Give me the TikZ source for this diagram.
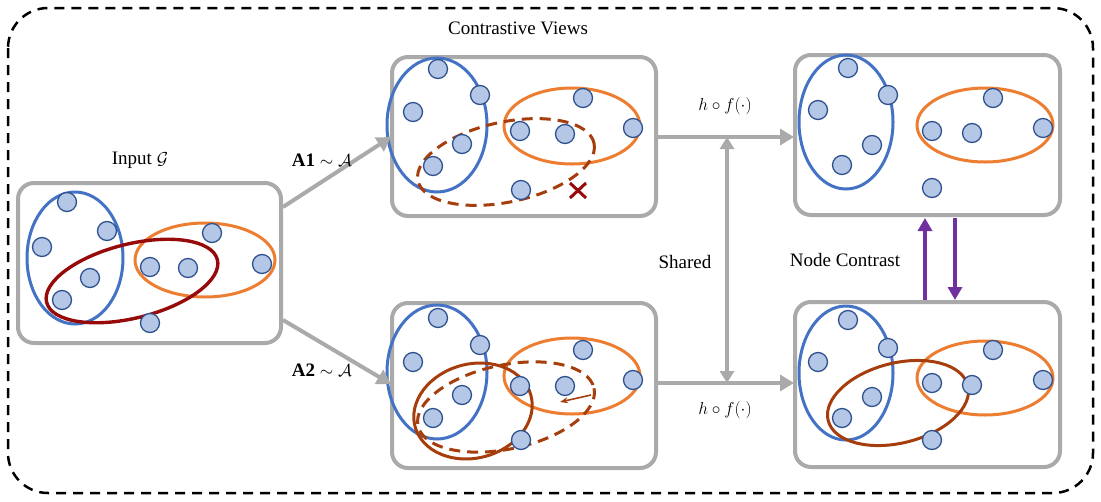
\documentclass[tikz,border=0pt]{standalone}
\usepackage{amsmath}
\usepackage{fontspec}
\setmainfont{Liberation Serif}
\usetikzlibrary{arrows.meta}
\definecolor{cblue}{RGB}{68,114,196}
\definecolor{corange}{RGB}{237,125,49}
\definecolor{cred}{RGB}{150,10,10}
\definecolor{cbrown}{RGB}{165,62,12}
\definecolor{cfill}{RGB}{180,199,231}
\definecolor{cedge}{RGB}{47,82,143}
\definecolor{cgray}{RGB}{170,170,170}
\definecolor{cpurple}{RGB}{112,48,160}
\tikzset{
  pt/.style={circle,draw=cedge,fill=cfill,line width=1.3pt,minimum size=19pt,inner sep=0pt},
  box/.style={draw=cgray,line width=4pt,rounded corners=16pt},
  grp/.style={line width=3pt},
  garrow/.style={draw=cgray,line width=4pt,-{Triangle[length=14pt,width=16pt]}},
  parrow/.style={draw=cpurple,line width=4pt,-{Triangle[length=13pt,width=14pt]}},
  lbl/.style={font=\fontsize{19}{22}\selectfont}
}
\begin{document}
\begin{tikzpicture}[x=1pt,y=-1pt]
\useasboundingbox (0,0) rectangle (1101,501);
\draw[line width=2.5pt,dash pattern=on 10pt off 7pt,rounded corners=40pt] (8,8) rectangle (1093,493);

% boxes
\draw[box] (18,183) rectangle (281,343);
\draw[box] (392,57) rectangle (656,216);
\draw[box] (392,303) rectangle (656,468);
\draw[box] (795,55) rectangle (1060,215);
\draw[box] (795,302) rectangle (1060,467);

% input graph
\draw[grp,cblue] (75,258) ellipse [x radius=48,y radius=66];
\draw[grp,corange] (205,260) ellipse [x radius=70,y radius=37];
\draw[grp,cred,line width=3.4pt,rotate around={14:(132,281)}] (132,281) ellipse [x radius=88,y radius=37];
\foreach \n/\x/\y in {1/67/202,2/42/247,3/107/231,4/90/278,5/62/300,6/150/267,7/188/268,8/212/233,9/262/264,10/150/323}
  \node[pt] (i\n) at (\x,\y) {};

% view 1
\draw[grp,cblue] (437,125) ellipse [x radius=50,y radius=67];
\draw[grp,corange] (572,126) ellipse [x radius=68,y radius=38];
\draw[grp,cbrown,dash pattern=on 11pt off 7pt,rotate around={12:(506,162)}] (506,162) ellipse [x radius=90,y radius=40];
\foreach \n/\x/\y in {1/438/69,2/480/95,3/413/112,4/462/144,5/433/166,6/520/131,7/565/134,8/583/98,9/633/128,10/521/190}
  \node[pt] (a\n) at (\x,\y) {};
\coordinate (x1) at (570,183);
\coordinate (x2) at (586,198);
\coordinate (x3) at (586,183);
\coordinate (x4) at (570,198);
\draw[cred,line width=3pt] (x1) -- (x2) (x3) -- (x4);

% view 2
\draw[grp,cblue] (437,372) ellipse [x radius=50,y radius=67];
\draw[grp,corange] (572,376) ellipse [x radius=68,y radius=38];
\draw[grp,cbrown,dash pattern=on 11pt off 7pt,rotate around={12:(506,407)}] (506,407) ellipse [x radius=90,y radius=42];
\draw[grp,cbrown,rotate around={15:(473,411)}] (473,411) ellipse [x radius=60,y radius=47];
\foreach \n/\x/\y in {1/438/318,2/480/345,3/413/362,4/462/395,5/433/418,6/520/386,7/565/386,8/583/350,9/633/380,10/521/440}
  \node[pt] (b\n) at (\x,\y) {};
\coordinate (s1) at (591,395);
\coordinate (s2) at (560,402);
\draw[cbrown,line width=1.6pt,-{Stealth[length=8pt]}] (s1) -- (s2);

% right top
\draw[grp,cblue] (846,122) ellipse [x radius=47,y radius=67];
\draw[grp,corange] (985,125) ellipse [x radius=68,y radius=37];
\foreach \n/\x/\y in {1/848/68,2/888/95,3/818/110,4/872/145,5/842/165,6/932/131,7/972/133,8/993/98,9/1043/128,10/932/188}
  \node[pt] (c\n) at (\x,\y) {};

% right bottom
\draw[grp,cblue] (846,373) ellipse [x radius=47,y radius=67];
\draw[grp,corange] (985,378) ellipse [x radius=68,y radius=37];
\draw[grp,cbrown,rotate around={14:(898,403)}] (898,403) ellipse [x radius=72,y radius=40];
\foreach \n/\x/\y in {1/848/320,2/888/348,3/818/362,4/872/397,5/842/418,6/932/383,7/972/385,8/993/350,9/1043/380,10/932/440}
  \node[pt] (d\n) at (\x,\y) {};

% connectors
\coordinate (in1) at (283,207);
\coordinate (in2) at (283,320);
\coordinate (v1in) at (391,137);
\coordinate (v2in) at (391,384);
\coordinate (v1out) at (656,137);
\coordinate (v2out) at (656,383);
\coordinate (r1in) at (794,137);
\coordinate (r2in) at (794,383);
\coordinate (sh1) at (727,137);
\coordinate (sh2) at (727,383);
\draw[garrow] (in1) -- (v1in);
\draw[garrow] (in2) -- (v2in);
\draw[garrow] (v1out) -- (r1in);
\draw[garrow] (v2out) -- (r2in);
\draw[draw=cgray,line width=3.5pt,{Triangle[length=12pt,width=14pt]}-{Triangle[length=12pt,width=14pt]}] (sh1) -- (sh2);
\coordinate (pu1) at (925,300);
\coordinate (pu2) at (925,218);
\coordinate (pd1) at (955,218);
\coordinate (pd2) at (955,300);
\draw[parrow] (pu1) -- (pu2);
\draw[parrow] (pd1) -- (pd2);

% labels
\node[lbl] (t1) at (518,28) {Contrastive Views};
\node[lbl] (t2) at (140,160) {Input $\mathcal{G}$};
\node[lbl] (t3) at (322,160) {$\mathbf{A1}\sim\mathcal{A}$};
\node[lbl] (t4) at (322,370) {$\mathbf{A2}\sim\mathcal{A}$};
\node[lbl] (t5) at (725,106) {$h\circ f(\cdot)$};
\node[lbl] (t6) at (725,410) {$h\circ f(\cdot)$};
\node[lbl] (t7) at (685,262) {Shared};
\node[lbl] (t8) at (845,260) {Node Contrast};
\end{tikzpicture}
\end{document}
